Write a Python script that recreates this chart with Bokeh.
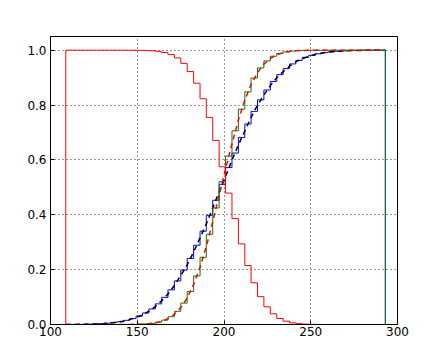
from bokeh.plotting import figure
from bokeh.models import FixedTicker, Range1d, PrintfTickFormatter
from bokeh.embed import file_html
from bokeh.resources import INLINE

# bin edges shared by all histograms
edges = [108.8, 112.5, 116.2, 119.9, 123.5, 127.2, 130.9, 134.6, 138.3, 141.9,
         145.6, 149.3, 153.0, 156.7, 160.4, 164.1, 167.7, 171.4, 175.1, 178.8,
         182.5, 186.2, 189.8, 193.5, 197.2, 200.9, 204.6, 208.3, 212.0, 215.6,
         219.3, 223.0, 226.7, 230.4, 234.1, 237.8, 241.4, 245.1, 248.8, 252.5,
         256.2, 259.9, 263.6, 267.2, 270.9, 274.6, 278.3, 282.0, 285.7, 289.3,
         293.0]

# empirical cumulative histogram, sigma 25 (blue)
blue_cum = [0.0002, 0.0003, 0.0006, 0.0011, 0.0018, 0.0028, 0.0046, 0.0070, 0.0100, 0.0152,
            0.0214, 0.0305, 0.0420, 0.0566, 0.0752, 0.0990, 0.1262, 0.1590, 0.1985, 0.2410,
            0.2890, 0.3400, 0.3980, 0.4530, 0.5110, 0.5720, 0.6250, 0.6820, 0.7310, 0.7770,
            0.8190, 0.8550, 0.8860, 0.9110, 0.9330, 0.9500, 0.9630, 0.9740, 0.9815, 0.9870,
            0.9912, 0.9942, 0.9962, 0.9976, 0.9986, 0.9991, 0.9995, 0.9997, 0.9999, 1.0]

# empirical cumulative histogram, sigma 15 (green)
green_cum = [0.0, 0.0, 0.0, 0.0, 0.0, 0.0, 0.0, 0.0, 0.0001, 0.0001,
             0.0004, 0.0009, 0.0020, 0.0042, 0.0083, 0.0160, 0.0282, 0.0480, 0.0780, 0.1205,
             0.1770, 0.2450, 0.3290, 0.4250, 0.5210, 0.6140, 0.7060, 0.7850, 0.8480, 0.8985,
             0.9355, 0.9610, 0.9780, 0.9878, 0.9938, 0.9970, 0.9986, 0.9994, 0.9997, 0.9999,
             0.9999, 1.0, 1.0, 1.0, 1.0, 1.0, 1.0, 1.0, 1.0, 1.0]

# reversed cumulative histogram, sigma 15 (red)
red_rev = [1.0, 1.0, 1.0, 1.0, 1.0, 1.0, 1.0, 1.0, 1.0, 0.9999,
           0.9999, 0.9996, 0.9991, 0.9980, 0.9958, 0.9917, 0.9840, 0.9718, 0.9520, 0.9220,
           0.8795, 0.8230, 0.7550, 0.6710, 0.5750, 0.4790, 0.3860, 0.2940, 0.2150, 0.1520,
           0.1015, 0.0645, 0.0390, 0.0220, 0.0122, 0.0062, 0.0030, 0.0014, 0.0006, 0.0003,
           0.0001, 0.0001, 0.0, 0.0, 0.0, 0.0, 0.0, 0.0, 0.0, 0.0]

# theoretical curves at the bin edges
black_theory = [0.0002, 0.0003, 0.0005, 0.0009, 0.0014, 0.0023, 0.0036, 0.0055, 0.0084, 0.0122,
                0.0179, 0.0256, 0.0351, 0.0485, 0.0655, 0.0869, 0.1112, 0.1423, 0.1788, 0.2177,
                0.2643, 0.3156, 0.3669, 0.4247, 0.4840, 0.5398, 0.5987, 0.6554, 0.7054, 0.7549,
                0.7995, 0.8365, 0.8708, 0.8997, 0.9222, 0.9418, 0.9573, 0.9686, 0.9778, 0.9846,
                0.9893, 0.9929, 0.9953, 0.9969, 0.9981, 0.9988, 0.9993, 0.9996, 0.9997, 0.9999,
                1.0]
red_theory = [0.0, 0.0, 0.0, 0.0, 0.0, 0.0, 0.0, 0.0, 0.0, 0.0001,
              0.0002, 0.0006, 0.0013, 0.0028, 0.0059, 0.0116, 0.0212, 0.0367, 0.0618, 0.0968,
              0.1469, 0.2090, 0.2843, 0.3745, 0.4721, 0.5675, 0.6591, 0.7454, 0.8186, 0.8749,
              0.9177, 0.9495, 0.9699, 0.9834, 0.9911, 0.9956, 0.9979, 0.9991, 0.9996, 0.9998,
              0.9999, 0.9999, 1.0, 1.0, 1.0, 1.0, 1.0, 1.0, 1.0, 1.0,
              1.0]

x_ticks = [100, 150, 200, 250, 300]
y_ticks = [0.0, 0.2, 0.4, 0.6, 0.8, 1.0]


def outline(e, vals):
    xs = [e[0]]
    ys = [0.0]
    for k, v in enumerate(vals):
        xs += [e[k], e[k + 1]]
        ys += [v, v]
    xs.append(e[-1])
    ys.append(0.0)
    return xs, ys


p = figure(width=440, height=360, x_range=Range1d(100, 300), y_range=Range1d(0, 1.05),
           output_backend="svg", toolbar_location=None,
           min_border_left=50, min_border_right=43, min_border_top=36, min_border_bottom=36)
p.background_fill_color = "white"
p.border_fill_color = "white"
p.outline_line_color = "black"
p.outline_line_width = 1
p.outline_line_alpha = 1

font = "DejaVu Sans"
for ax in (p.xaxis[0], p.yaxis[0]):
    ax.axis_line_color = "black"
    ax.major_tick_in = 4
    ax.major_tick_out = 0
    ax.major_tick_line_color = "black"
    ax.minor_tick_line_color = None
    ax.major_label_text_font = font
    ax.major_label_text_font_size = "12px"
    ax.major_label_text_color = "black"
    ax.major_label_standoff = 4
p.xaxis[0].major_label_standoff = 2
p.xaxis[0].ticker = FixedTicker(ticks=x_ticks)
p.yaxis[0].ticker = FixedTicker(ticks=y_ticks)
p.xaxis[0].formatter = PrintfTickFormatter(format="%d")
p.yaxis[0].formatter = PrintfTickFormatter(format="%.1f")

p.xgrid.ticker = FixedTicker(ticks=x_ticks)
p.ygrid.ticker = FixedTicker(ticks=y_ticks)
for g in (p.xgrid[0], p.ygrid[0]):
    g.grid_line_color = "black"
    g.grid_line_dash = "1 3"
    g.grid_line_width = 1
    g.grid_line_alpha = 0.8

bx, by = outline(edges, blue_cum)
p.line(bx, by, line_color="#0000ff", line_width=1)
p.line(edges, black_theory, line_color="black", line_width=1.5, line_dash="5 4")
gx, gy = outline(edges, green_cum)
p.line(gx, gy, line_color="#008000", line_width=1)
p.line(edges, red_theory, line_color="#ff0000", line_width=1.5, line_dash="5 4")
rx, ry = outline(edges, red_rev)
p.line(rx, ry, line_color="#ff0000", line_width=1)

open("out.html", "w").write(file_html(p, INLINE))
